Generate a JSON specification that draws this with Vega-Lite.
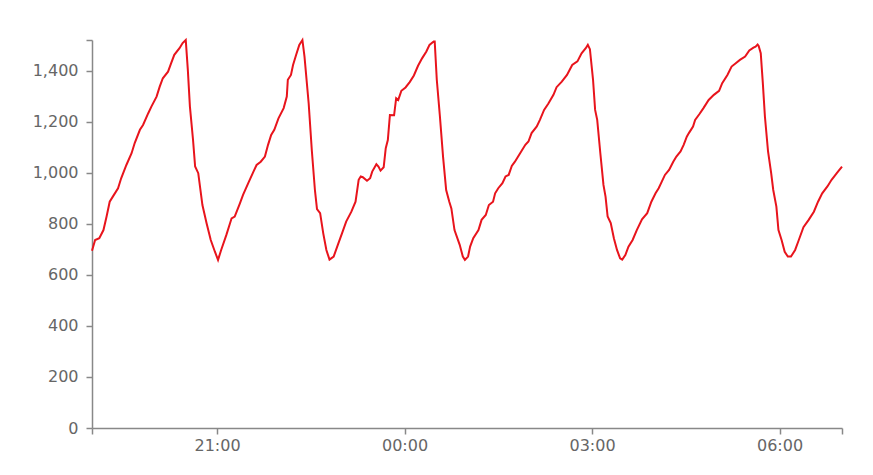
{
  "$schema": "https://vega.github.io/schema/vega-lite/v6.json",
  "description": "Sawtooth time series",
  "autosize": "none",
  "padding": {"left": 92, "top": 40, "right": 31, "bottom": 47},
  "width": 750,
  "height": 388,
  "data": {
    "values": [
      {"time": "2020-01-01T19:00", "value": 695},
      {"time": "2020-01-01T19:03", "value": 737},
      {"time": "2020-01-01T19:07", "value": 744},
      {"time": "2020-01-01T19:11", "value": 776},
      {"time": "2020-01-01T19:14", "value": 829},
      {"time": "2020-01-01T19:17", "value": 887},
      {"time": "2020-01-01T19:20", "value": 907},
      {"time": "2020-01-01T19:25", "value": 940},
      {"time": "2020-01-01T19:28", "value": 979},
      {"time": "2020-01-01T19:33", "value": 1031},
      {"time": "2020-01-01T19:38", "value": 1077},
      {"time": "2020-01-01T19:41", "value": 1117},
      {"time": "2020-01-01T19:46", "value": 1169},
      {"time": "2020-01-01T19:49", "value": 1188},
      {"time": "2020-01-01T19:54", "value": 1234},
      {"time": "2020-01-01T19:57", "value": 1260},
      {"time": "2020-01-01T20:02", "value": 1299},
      {"time": "2020-01-01T20:05", "value": 1338},
      {"time": "2020-01-01T20:08", "value": 1371},
      {"time": "2020-01-01T20:13", "value": 1397},
      {"time": "2020-01-01T20:16", "value": 1430},
      {"time": "2020-01-01T20:19", "value": 1463},
      {"time": "2020-01-01T20:24", "value": 1489},
      {"time": "2020-01-01T20:27", "value": 1509},
      {"time": "2020-01-01T20:30", "value": 1521},
      {"time": "2020-01-01T20:32", "value": 1404},
      {"time": "2020-01-01T20:34", "value": 1260},
      {"time": "2020-01-01T20:37", "value": 1129},
      {"time": "2020-01-01T20:39", "value": 1025},
      {"time": "2020-01-01T20:42", "value": 999},
      {"time": "2020-01-01T20:46", "value": 874},
      {"time": "2020-01-01T20:50", "value": 803},
      {"time": "2020-01-01T20:54", "value": 737},
      {"time": "2020-01-01T20:58", "value": 691},
      {"time": "2020-01-01T21:01", "value": 659},
      {"time": "2020-01-01T21:04", "value": 698},
      {"time": "2020-01-01T21:09", "value": 757},
      {"time": "2020-01-01T21:14", "value": 822},
      {"time": "2020-01-01T21:17", "value": 829},
      {"time": "2020-01-01T21:22", "value": 881},
      {"time": "2020-01-01T21:25", "value": 914},
      {"time": "2020-01-01T21:30", "value": 960},
      {"time": "2020-01-01T21:35", "value": 1005},
      {"time": "2020-01-01T21:38", "value": 1031},
      {"time": "2020-01-01T21:42", "value": 1044},
      {"time": "2020-01-01T21:46", "value": 1064},
      {"time": "2020-01-01T21:49", "value": 1110},
      {"time": "2020-01-01T21:52", "value": 1149},
      {"time": "2020-01-01T21:55", "value": 1169},
      {"time": "2020-01-01T21:59", "value": 1214},
      {"time": "2020-01-01T22:04", "value": 1254},
      {"time": "2020-01-01T22:07", "value": 1299},
      {"time": "2020-01-01T22:08", "value": 1365},
      {"time": "2020-01-01T22:11", "value": 1384},
      {"time": "2020-01-01T22:13", "value": 1423},
      {"time": "2020-01-01T22:16", "value": 1463},
      {"time": "2020-01-01T22:19", "value": 1502},
      {"time": "2020-01-01T22:22", "value": 1521},
      {"time": "2020-01-01T22:24", "value": 1456},
      {"time": "2020-01-01T22:28", "value": 1273},
      {"time": "2020-01-01T22:31", "value": 1090},
      {"time": "2020-01-01T22:34", "value": 933},
      {"time": "2020-01-01T22:36", "value": 858},
      {"time": "2020-01-01T22:39", "value": 842},
      {"time": "2020-01-01T22:42", "value": 763},
      {"time": "2020-01-01T22:45", "value": 698},
      {"time": "2020-01-01T22:48", "value": 660},
      {"time": "2020-01-01T22:52", "value": 672},
      {"time": "2020-01-01T22:56", "value": 718},
      {"time": "2020-01-01T23:00", "value": 763},
      {"time": "2020-01-01T23:04", "value": 809},
      {"time": "2020-01-01T23:09", "value": 848},
      {"time": "2020-01-01T23:13", "value": 887},
      {"time": "2020-01-01T23:16", "value": 973},
      {"time": "2020-01-01T23:18", "value": 986},
      {"time": "2020-01-01T23:20", "value": 983},
      {"time": "2020-01-01T23:24", "value": 969},
      {"time": "2020-01-01T23:27", "value": 979},
      {"time": "2020-01-01T23:29", "value": 1005},
      {"time": "2020-01-01T23:33", "value": 1034},
      {"time": "2020-01-01T23:35", "value": 1025},
      {"time": "2020-01-01T23:37", "value": 1009},
      {"time": "2020-01-01T23:40", "value": 1022},
      {"time": "2020-01-01T23:42", "value": 1097},
      {"time": "2020-01-01T23:44", "value": 1129},
      {"time": "2020-01-01T23:46", "value": 1227},
      {"time": "2020-01-01T23:50", "value": 1226},
      {"time": "2020-01-01T23:52", "value": 1293},
      {"time": "2020-01-01T23:54", "value": 1286},
      {"time": "2020-01-01T23:57", "value": 1322},
      {"time": "2020-01-02T00:01", "value": 1335},
      {"time": "2020-01-02T00:05", "value": 1356},
      {"time": "2020-01-02T00:09", "value": 1382},
      {"time": "2020-01-02T00:13", "value": 1420},
      {"time": "2020-01-02T00:17", "value": 1450},
      {"time": "2020-01-02T00:21", "value": 1476},
      {"time": "2020-01-02T00:24", "value": 1502},
      {"time": "2020-01-02T00:28", "value": 1515},
      {"time": "2020-01-02T00:29", "value": 1515},
      {"time": "2020-01-02T00:31", "value": 1365},
      {"time": "2020-01-02T00:34", "value": 1221},
      {"time": "2020-01-02T00:37", "value": 1064},
      {"time": "2020-01-02T00:40", "value": 933},
      {"time": "2020-01-02T00:43", "value": 887},
      {"time": "2020-01-02T00:45", "value": 861},
      {"time": "2020-01-02T00:48", "value": 776},
      {"time": "2020-01-02T00:53", "value": 718},
      {"time": "2020-01-02T00:56", "value": 672},
      {"time": "2020-01-02T00:58", "value": 659},
      {"time": "2020-01-02T01:01", "value": 672},
      {"time": "2020-01-02T01:03", "value": 711},
      {"time": "2020-01-02T01:06", "value": 744},
      {"time": "2020-01-02T01:11", "value": 776},
      {"time": "2020-01-02T01:14", "value": 816},
      {"time": "2020-01-02T01:18", "value": 835},
      {"time": "2020-01-02T01:21", "value": 874},
      {"time": "2020-01-02T01:25", "value": 887},
      {"time": "2020-01-02T01:27", "value": 920},
      {"time": "2020-01-02T01:30", "value": 940},
      {"time": "2020-01-02T01:34", "value": 960},
      {"time": "2020-01-02T01:37", "value": 986},
      {"time": "2020-01-02T01:40", "value": 992},
      {"time": "2020-01-02T01:43", "value": 1027},
      {"time": "2020-01-02T01:46", "value": 1044},
      {"time": "2020-01-02T01:51", "value": 1077},
      {"time": "2020-01-02T01:56", "value": 1110},
      {"time": "2020-01-02T01:59", "value": 1123},
      {"time": "2020-01-02T02:02", "value": 1156},
      {"time": "2020-01-02T02:07", "value": 1182},
      {"time": "2020-01-02T02:10", "value": 1208},
      {"time": "2020-01-02T02:14", "value": 1247},
      {"time": "2020-01-02T02:18", "value": 1271},
      {"time": "2020-01-02T02:23", "value": 1306},
      {"time": "2020-01-02T02:26", "value": 1336},
      {"time": "2020-01-02T02:31", "value": 1358},
      {"time": "2020-01-02T02:36", "value": 1384},
      {"time": "2020-01-02T02:41", "value": 1423},
      {"time": "2020-01-02T02:46", "value": 1437},
      {"time": "2020-01-02T02:50", "value": 1469},
      {"time": "2020-01-02T02:54", "value": 1489},
      {"time": "2020-01-02T02:56", "value": 1502},
      {"time": "2020-01-02T02:58", "value": 1485},
      {"time": "2020-01-02T03:01", "value": 1365},
      {"time": "2020-01-02T03:03", "value": 1247},
      {"time": "2020-01-02T03:05", "value": 1208},
      {"time": "2020-01-02T03:08", "value": 1077},
      {"time": "2020-01-02T03:11", "value": 953},
      {"time": "2020-01-02T03:13", "value": 907},
      {"time": "2020-01-02T03:15", "value": 829},
      {"time": "2020-01-02T03:18", "value": 803},
      {"time": "2020-01-02T03:21", "value": 744},
      {"time": "2020-01-02T03:24", "value": 698},
      {"time": "2020-01-02T03:27", "value": 665},
      {"time": "2020-01-02T03:29", "value": 660},
      {"time": "2020-01-02T03:32", "value": 678},
      {"time": "2020-01-02T03:35", "value": 711},
      {"time": "2020-01-02T03:39", "value": 737},
      {"time": "2020-01-02T03:43", "value": 776},
      {"time": "2020-01-02T03:48", "value": 818},
      {"time": "2020-01-02T03:53", "value": 842},
      {"time": "2020-01-02T03:57", "value": 887},
      {"time": "2020-01-02T04:01", "value": 920},
      {"time": "2020-01-02T04:04", "value": 940},
      {"time": "2020-01-02T04:07", "value": 966},
      {"time": "2020-01-02T04:10", "value": 992},
      {"time": "2020-01-02T04:14", "value": 1012},
      {"time": "2020-01-02T04:18", "value": 1044},
      {"time": "2020-01-02T04:21", "value": 1064},
      {"time": "2020-01-02T04:25", "value": 1084},
      {"time": "2020-01-02T04:28", "value": 1110},
      {"time": "2020-01-02T04:31", "value": 1142},
      {"time": "2020-01-02T04:33", "value": 1156},
      {"time": "2020-01-02T04:37", "value": 1182},
      {"time": "2020-01-02T04:39", "value": 1208},
      {"time": "2020-01-02T04:43", "value": 1230},
      {"time": "2020-01-02T04:47", "value": 1254},
      {"time": "2020-01-02T04:52", "value": 1286},
      {"time": "2020-01-02T04:57", "value": 1306},
      {"time": "2020-01-02T05:02", "value": 1322},
      {"time": "2020-01-02T05:05", "value": 1352},
      {"time": "2020-01-02T05:10", "value": 1384},
      {"time": "2020-01-02T05:14", "value": 1417},
      {"time": "2020-01-02T05:18", "value": 1430},
      {"time": "2020-01-02T05:22", "value": 1443},
      {"time": "2020-01-02T05:27", "value": 1456},
      {"time": "2020-01-02T05:31", "value": 1480},
      {"time": "2020-01-02T05:35", "value": 1491},
      {"time": "2020-01-02T05:37", "value": 1495},
      {"time": "2020-01-02T05:39", "value": 1503},
      {"time": "2020-01-02T05:40", "value": 1498},
      {"time": "2020-01-02T05:42", "value": 1469},
      {"time": "2020-01-02T05:44", "value": 1352},
      {"time": "2020-01-02T05:46", "value": 1221},
      {"time": "2020-01-02T05:49", "value": 1084},
      {"time": "2020-01-02T05:52", "value": 999},
      {"time": "2020-01-02T05:54", "value": 933},
      {"time": "2020-01-02T05:57", "value": 868},
      {"time": "2020-01-02T05:59", "value": 776},
      {"time": "2020-01-02T06:02", "value": 737},
      {"time": "2020-01-02T06:05", "value": 691},
      {"time": "2020-01-02T06:08", "value": 672},
      {"time": "2020-01-02T06:11", "value": 672},
      {"time": "2020-01-02T06:15", "value": 698},
      {"time": "2020-01-02T06:18", "value": 731},
      {"time": "2020-01-02T06:23", "value": 787},
      {"time": "2020-01-02T06:28", "value": 816},
      {"time": "2020-01-02T06:33", "value": 848},
      {"time": "2020-01-02T06:37", "value": 887},
      {"time": "2020-01-02T06:41", "value": 920},
      {"time": "2020-01-02T06:46", "value": 947},
      {"time": "2020-01-02T06:50", "value": 973},
      {"time": "2020-01-02T06:55", "value": 999},
      {"time": "2020-01-02T07:00", "value": 1025}
    ]
  },
  "mark": {"type": "line", "color": "#e8141c", "strokeWidth": 2, "interpolate": "linear"},
  "encoding": {
    "x": {
      "field": "time",
      "type": "temporal",
      "title": null,
      "scale": {"domain": ["2020-01-01T19:00", "2020-01-02T07:00"], "nice": false},
      "axis": {
        "values": ["2020-01-01T19:00", "2020-01-01T21:00", "2020-01-02T00:00", "2020-01-02T03:00", "2020-01-02T06:00", "2020-01-02T07:00"],
        "format": "%H:%M",
        "labelExpr": "(datum.label == '19:00' || datum.label == '07:00') ? '' : datum.label",
        "grid": false,
        "tickSize": 6,
        "labelPadding": 3,
        "labelFlush": false,
        "labelOverlap": false
      }
    },
    "y": {
      "field": "value",
      "type": "quantitative",
      "title": null,
      "scale": {"domain": [0, 1521], "nice": false},
      "axis": {
        "values": [0, 200, 400, 600, 800, 1000, 1200, 1400, 1521],
        "labelExpr": "datum.value > 1500 ? '' : datum.label",
        "grid": false,
        "tickSize": 6,
        "labelPadding": 8,
        "labelOverlap": false
      }
    }
  },
  "config": {
    "view": {"stroke": null},
    "font": "DejaVu Sans",
    "axis": {
      "domainColor": "#888888",
      "tickColor": "#888888",
      "labelColor": "#666666",
      "labelFont": "DejaVu Sans",
      "labelFontSize": 16,
      "domainWidth": 1.5,
      "tickWidth": 1.5
    }
  }
}
